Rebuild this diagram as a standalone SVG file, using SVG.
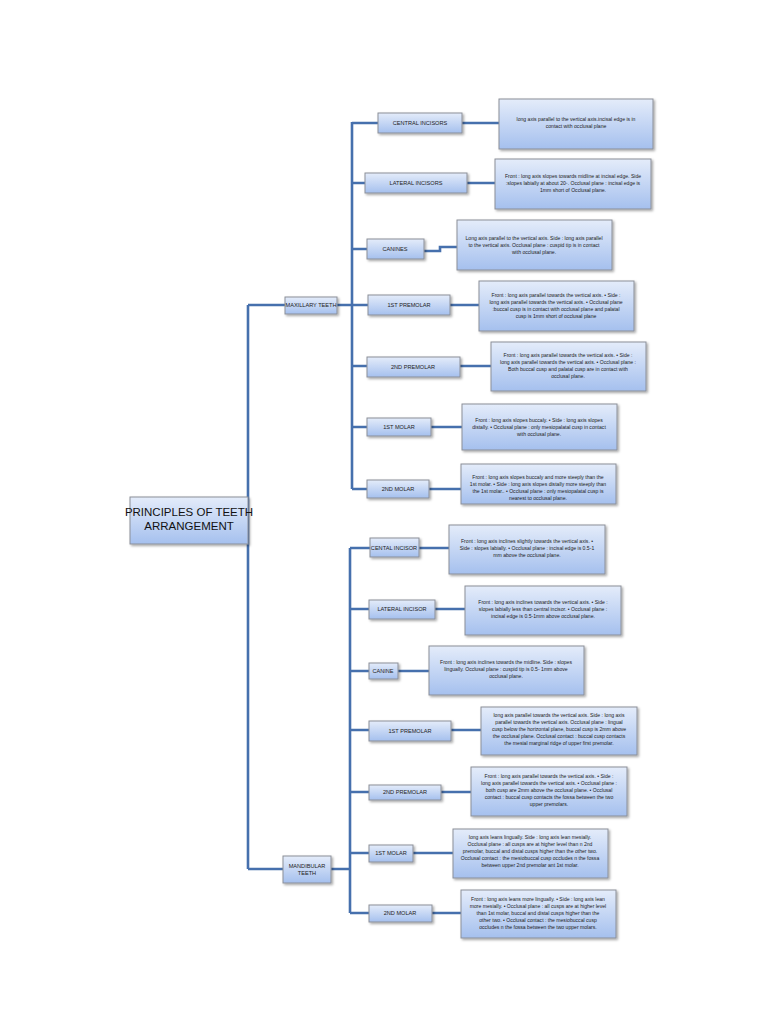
<svg xmlns="http://www.w3.org/2000/svg" width="768" height="1024" viewBox="0 0 768 1024">
<defs>
<linearGradient id="g" x1="0" y1="0" x2="0" y2="1"><stop offset="0" stop-color="#e4ecfa"/><stop offset="1" stop-color="#a5c0ee"/></linearGradient>
<filter id="sh" x="-10%" y="-10%" width="130%" height="140%"><feDropShadow dx="1.5" dy="1.5" stdDeviation="1" flood-color="#000" flood-opacity="0.35"/></filter>
</defs>
<style>
rect{fill:url(#g);stroke:#8b8f98;stroke-width:1;filter:url(#sh)}
text{font-family:"Liberation Sans",Arial,sans-serif;fill:#222;text-anchor:middle}
.l{font-size:5.6px}
.d{font-size:5.1px}
.t{font-size:11.5px;fill:#111}
#c path{fill:none;stroke:#4670ad;stroke-width:2.6}
</style>
<rect width="768" height="1024" style="fill:#fff;stroke:none;filter:none"/>
<g id="c">
<path d="M248 305V869M248 305H285M248 869H283"/>
<path d="M337 305H352M352 122V489M352 123H378M352 183H365M352 249H367M352 305H368M352 366H367M352 427H367M352 489H367"/>
<path d="M462 123H499M467 183H495M424 251H440V247H457M450 305H479M460 366H491M431 427H462M429 489H461"/>
<path d="M331 869H350M350 548V913M350 548H370M350 609H369M350 671H369M350 730H369M350 792H369M350 853H369M350 913H369"/>
<path d="M419 548H449M435 609H465M398 671H429M451 730H481M441 792H471M413 853H453M432 913H461"/>
</g>
<g id="root"><rect x="130" y="497" width="118" height="47"/><text class="t" x="189" y="516">PRINCIPLES OF TEETH<tspan x="189" dy="14">ARRANGEMENT</tspan></text></g>
<g id="maxillary"><rect x="285" y="297" width="52" height="17"/><text class="l" x="311" y="307">MAXILLARY  TEETH</text></g>
<g id="mandibular"><rect x="283" y="856" width="48" height="27"/><text class="l" x="307" y="868">MANDIBULAR<tspan x="307" dy="7">TEETH</tspan></text></g>

<g id="mx1"><rect x="378" y="113" width="84" height="20"/><text class="l" x="420" y="125">CENTRAL INCISORS</text></g>
<g id="mx2"><rect x="365" y="173" width="102" height="20"/><text class="l" x="416" y="185">LATERAL INCISORS</text></g>
<g id="mx3"><rect x="367" y="239" width="57" height="20"/><text class="l" x="395" y="251">CANINES</text></g>
<g id="mx4"><rect x="368" y="295" width="82" height="20"/><text class="l" x="409" y="307">1ST PREMOLAR</text></g>
<g id="mx5"><rect x="367" y="357" width="93" height="20"/><text class="l" x="413" y="369">2ND PREMOLAR</text></g>
<g id="mx6"><rect x="367" y="418" width="64" height="18"/><text class="l" x="399" y="429">1ST MOLAR</text></g>
<g id="mx7"><rect x="367" y="480" width="62" height="18"/><text class="l" x="398" y="491">2ND MOLAR</text></g>

<g id="mxd1"><rect x="499" y="99" width="154" height="50"/><text class="d" x="576" y="121">long axis parallel to the vertical axis.incisal edge is in<tspan x="576" dy="7">contact with occlusal plane</tspan></text></g>
<g id="mxd2"><rect x="495" y="159" width="156" height="50"/><text class="d" x="573" y="178">Front : long axis slopes towards midline at incisal edge. Side<tspan x="573" dy="7">:slopes labially at about 20◦. Occlusal plane : incisal edge is</tspan><tspan x="573" dy="7">1mm short of Occlusal plane.</tspan></text></g>
<g id="mxd3"><rect x="457" y="220" width="155" height="50"/><text class="d" x="534" y="240">Long axis parallel to the vertical axis. Side : long axis parallel<tspan x="534" dy="7">to the vertical axis. Occlusal plane : cuspid tip is in contact</tspan><tspan x="534" dy="7">with occlusal plane.</tspan></text></g>
<g id="mxd4"><rect x="479" y="281" width="155" height="50"/><text class="d" x="556" y="297">Front : long axis parallel towards the vertical axis. • Side :<tspan x="556" dy="7">long axis parallel towards the vertical axis. • Occlusal plane</tspan><tspan x="556" dy="7">:buccal cusp is in contact with occlusal plane and palatal</tspan><tspan x="556" dy="7">cusp is 1mm short of occlusal plane</tspan></text></g>
<g id="mxd5"><rect x="491" y="342" width="155" height="49"/><text class="d" x="568" y="357">Front : long axis parallel towards the vertical axis. • Side :<tspan x="568" dy="7">long axis parallel towards the vertical axis. • Occlusal plane :</tspan><tspan x="568" dy="7">Both buccal cusp and palatal cusp are in contact with</tspan><tspan x="568" dy="7">occlusal plane.</tspan></text></g>
<g id="mxd6"><rect x="462" y="404" width="155" height="46"/><text class="d" x="539" y="422">Front : long axis slopes buccaly. • Side : long axis slopes<tspan x="539" dy="7">distally. • Occlusal plane : only mesiopalatal cusp in contact</tspan><tspan x="539" dy="7">with occlusal plane.</tspan></text></g>
<g id="mxd7"><rect x="461" y="464" width="155" height="40"/><text class="d" x="538" y="479">Front : long axis slopes buccaly and more steeply than the<tspan x="538" dy="7">1st molar. • Side : long axis slopes distally more steeply than</tspan><tspan x="538" dy="7">the 1st molar.. • Occlusal plane : only mesiopalatal cusp is</tspan><tspan x="538" dy="7">nearest to occlusal plane.</tspan></text></g>

<g id="md1"><rect x="370" y="538" width="49" height="19"/><text class="l" x="394" y="550">CENTAL INCISOR</text></g>
<g id="md2"><rect x="369" y="600" width="66" height="19"/><text class="l" x="402" y="611">LATERAL INCISOR</text></g>
<g id="md3"><rect x="369" y="663" width="29" height="16"/><text class="l" x="383" y="673">CANINE</text></g>
<g id="md4"><rect x="369" y="721" width="82" height="20"/><text class="l" x="410" y="733">1ST PREMOLAR</text></g>
<g id="md5"><rect x="369" y="785" width="72" height="15"/><text class="l" x="405" y="794">2ND PREMOLAR</text></g>
<g id="md6"><rect x="369" y="845" width="44" height="17"/><text class="l" x="391" y="855">1ST MOLAR</text></g>
<g id="md7"><rect x="369" y="905" width="63" height="17"/><text class="l" x="400" y="915">2ND MOLAR</text></g>

<g id="mdd1"><rect x="449" y="525" width="156" height="49"/><text class="d" x="527" y="543">Front : long axis inclines slightly towards the vertical axis. •<tspan x="527" dy="7">Side : slopes labially. • Occlusal plane : incisal edge is 0.5-1</tspan><tspan x="527" dy="7">mm above the occlusal plane.</tspan></text></g>
<g id="mdd2"><rect x="465" y="586" width="156" height="49"/><text class="d" x="543" y="604">Front : long axis inclines towards the vertical axis. • Side :<tspan x="543" dy="7">slopes labially less than central incisor. • Occlusal plane :</tspan><tspan x="543" dy="7">incisal edge is 0.5-1mm above occlusal plane.</tspan></text></g>
<g id="mdd3"><rect x="429" y="646" width="155" height="49"/><text class="d" x="506" y="664">Front :  long axis inclines towards the midline. Side : slopes<tspan x="506" dy="7">lingually. Occlusal plane : cuspid tip is 0.5- 1mm above</tspan><tspan x="506" dy="7">occlusal plane.</tspan></text></g>
<g id="mdd4"><rect x="481" y="707" width="156" height="48"/><text class="d" x="559" y="717">long axis parallel towards the vertical axis. Side : long axis<tspan x="559" dy="7">parallel towards the vertical axis. Occlusal plane : lingual</tspan><tspan x="559" dy="7">cusp below the horizontal plane, buccal cusp is 2mm above</tspan><tspan x="559" dy="7">the occlusal plane. Occlusal contact : buccal cusp contacts</tspan><tspan x="559" dy="7">the mesial marginal ridge of upper first premolar.</tspan></text></g>
<g id="mdd5"><rect x="471" y="767" width="156" height="49"/><text class="d" x="549" y="778">Front : long axis parallel towards the vertical axis. • Side :<tspan x="549" dy="7">long axis parallel towards the vertical axis. • Occlusal plane :</tspan><tspan x="549" dy="7">both cusp are 2mm above the occlusal plane. • Occlusal</tspan><tspan x="549" dy="7">contact : buccal cusp contacts the fossa between the two</tspan><tspan x="549" dy="7">upper premolars.</tspan></text></g>
<g id="mdd6"><rect x="453" y="829" width="155" height="49"/><text class="d" x="530" y="839">long axis leans lingually. Side : long axis lean mesially.<tspan x="530" dy="7">Occlusal plane : all cusps are at higher level than n 2nd</tspan><tspan x="530" dy="7">premolar, buccal and distal cusps higher than the other two.</tspan><tspan x="530" dy="7">Occlusal contact : the mesiobuccal cusp occludes n the fossa</tspan><tspan x="530" dy="7">between upper 2nd premolar ant 1st molar.</tspan></text></g>
<g id="mdd7"><rect x="461" y="890" width="155" height="48"/><text class="d" x="538" y="901">Front : long axis leans more lingually. • Side : long axis lean<tspan x="538" dy="7">more mesially. • Occlusal plane : all cusps are at higher level</tspan><tspan x="538" dy="7">than 1st molar, buccal and distal cusps higher than the</tspan><tspan x="538" dy="7">other two. • Occlusal contact : the mesiobuccal cusp</tspan><tspan x="538" dy="7">occludes n the fossa between the two upper molars.</tspan></text></g>
</svg>
